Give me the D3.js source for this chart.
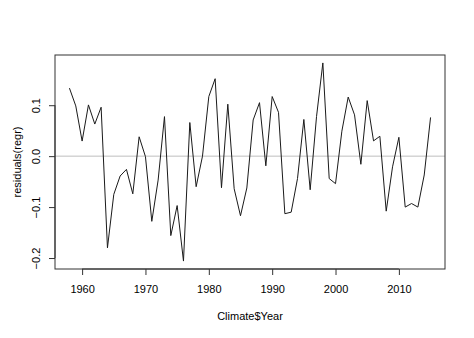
<!DOCTYPE html>
<html>
<head>
<meta charset="utf-8">
<script src="https://cdn.jsdelivr.net/npm/d3@7"></script>
<style>
  html, body { margin: 0; padding: 0; background: #fff; }
  svg { display: block; }
  text { font-family: "Liberation Sans", Arial, Helvetica, sans-serif; fill: #000; }
</style>
</head>
<body>
<svg id="chart" width="474" height="338"></svg>
<script>
const years = d3.range(1958, 2016);
const residuals = [
  0.1335, 0.0986, 0.0296, 0.1006, 0.063, 0.096, -0.180, -0.075, -0.039, -0.026,
  -0.074, 0.038, -0.001, -0.128, -0.047, 0.0776, -0.156, -0.097, -0.206, 0.066,
  -0.060, 0.000, 0.117, 0.152, -0.062, 0.102, -0.064, -0.117, -0.0625, 0.071,
  0.105, -0.019, 0.117, 0.086, -0.113, -0.110, -0.044, 0.072, -0.066, 0.0776,
  0.183, -0.044, -0.054, 0.049, 0.116, 0.081, -0.016, 0.109, 0.030, 0.039,
  -0.108, -0.021, 0.037, -0.100, -0.093, -0.100, -0.037, 0.076
];
const xTicks = [1960, 1970, 1980, 1990, 2000, 2010];
const yTicks = [-0.2, -0.1, 0.0, 0.1];
const xLabel = "Climate$Year";
const yLabel = "residuals(regr)";

const box = { left: 55, right: 445, top: 55, bottom: 269 };
const svg = d3.select("#chart");

function rExtend(lo, hi) { const e = (hi - lo) * 0.04; return [lo - e, hi + e]; }

const x = d3.scaleLinear().domain(rExtend(d3.min(years), d3.max(years))).range([box.left, box.right]);
const y = d3.scaleLinear().domain(rExtend(d3.min(residuals), d3.max(residuals))).range([box.bottom, box.top]);

// zero reference line
svg.append("line")
  .attr("x1", box.left).attr("x2", box.right)
  .attr("y1", y(0)).attr("y2", y(0))
  .attr("stroke", "#bebebe").attr("stroke-width", 1);

// data line
const data = years.map((yr, i) => [yr, residuals[i]]);
svg.append("path")
  .datum(data)
  .attr("fill", "none")
  .attr("stroke", "#1a1a1a")
  .attr("stroke-width", 1)
  .attr("stroke-linejoin", "round")
  .attr("d", d3.line().x(d => x(d[0])).y(d => y(d[1])));

// box
svg.append("rect")
  .attr("x", box.left).attr("y", box.top)
  .attr("width", box.right - box.left).attr("height", box.bottom - box.top)
  .attr("fill", "none").attr("stroke", "#333").attr("stroke-width", 1);

// x axis
const xAxis = d3.axisBottom(x).tickValues(xTicks).tickSize(6).tickPadding(10).tickFormat(d3.format("d"));
const gx = svg.append("g").attr("transform", `translate(0,${box.bottom})`).call(xAxis);
gx.select(".domain").attr("d", `M${x(xTicks[0])},0H${x(xTicks[xTicks.length - 1])}`).attr("stroke", "#333");
gx.selectAll(".tick line").attr("stroke", "#333");
gx.selectAll(".tick text").attr("font-size", 11).attr("font-family", "'Liberation Sans', Arial, sans-serif").attr("fill", "#000");

// y axis
const yAxis = d3.axisLeft(y).tickValues(yTicks).tickSize(6).tickFormat(d3.format(".1f"));
const gy = svg.append("g").attr("transform", `translate(${box.left},0)`).call(yAxis);
gy.select(".domain").attr("d", `M0,${y(yTicks[0])}V${y(yTicks[yTicks.length - 1])}`).attr("stroke", "#333");
gy.selectAll(".tick line").attr("stroke", "#333");
gy.selectAll(".tick text")
  .attr("font-size", 11).attr("font-family", "'Liberation Sans', Arial, sans-serif").attr("fill", "#000")
  .attr("x", null).attr("dy", null)
  .attr("text-anchor", "middle")
  .attr("transform", "translate(-15,0) rotate(-90)");

// axis titles
svg.append("text")
  .attr("x", (box.left + box.right) / 2).attr("y", 320)
  .attr("text-anchor", "middle").attr("font-size", 11)
  .text(xLabel);
svg.append("text")
  .attr("transform", `translate(21,${(box.top + box.bottom) / 2}) rotate(-90)`)
  .attr("text-anchor", "middle").attr("font-size", 11)
  .text(yLabel);
</script>
</body>
</html>
